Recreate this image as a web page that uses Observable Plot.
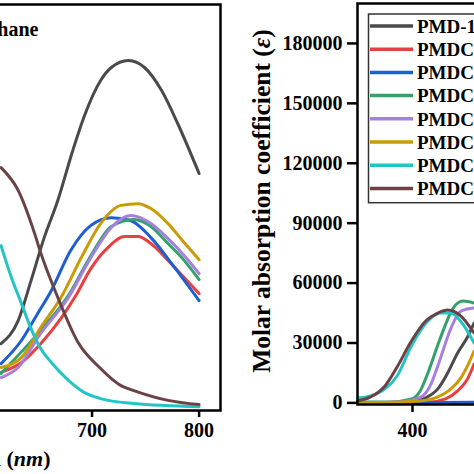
<!DOCTYPE html>
<html>
<head>
<meta charset="utf-8">
<script src="https://cdn.jsdelivr.net/npm/d3@7"></script>
<script src="https://cdn.jsdelivr.net/npm/@observablehq/plot@0.6"></script>
<style>
html, body { margin: 0; padding: 0; background: #fff; overflow: hidden; }
#wrap { position: relative; width: 474px; height: 474px; overflow: hidden; background: #fff; }
#wrap svg { position: absolute; top: 0; }
</style>
</head>
<body>
<div id="wrap"></div>
<script>
// Series names (legend order)
const seriesNames = ["PMD-1", "PMDC-1", "PMDC-2", "PMDC-3", "PMDC-4", "PMDC-5", "PMDC-6", "PMDC-7"];

// Left panel: normalized spectra in dichloromethane [wavelength nm, intensity]
const leftPMD1  = [[615,0.191],[631,0.257],[643,0.371],[655,0.491],[668,0.600],[682,0.743],[693,0.843],[708,0.943],[718,0.980],[734,1.000],[749,0.980],[765,0.914],[780,0.820],[800,0.677]];
const leftPMDC1 = [[615,0.109],[634,0.137],[652,0.191],[671,0.263],[685,0.329],[699,0.406],[715,0.466],[730,0.497],[743,0.497],[755,0.477],[771,0.429],[786,0.380],[800,0.334]];
const leftPMDC2 = [[615,0.134],[634,0.200],[648,0.271],[662,0.343],[680,0.457],[699,0.529],[718,0.551],[736,0.543],[755,0.494],[777,0.409],[800,0.314]];
const leftPMDC3 = [[615,0.106],[652,0.229],[678,0.329],[699,0.443],[718,0.526],[739,0.546],[755,0.526],[771,0.477],[786,0.429],[800,0.374]];
const leftPMDC4 = [[615,0.094],[631,0.123],[652,0.220],[678,0.323],[699,0.437],[718,0.523],[736,0.557],[755,0.534],[771,0.491],[786,0.443],[800,0.391]];
const leftPMDC5 = [[615,0.123],[634,0.151],[652,0.237],[671,0.323],[690,0.437],[708,0.534],[727,0.586],[743,0.591],[755,0.577],[771,0.534],[786,0.480],[800,0.431]];
const leftPMDC6 = [[615,0.471],[624,0.386],[634,0.306],[643,0.234],[652,0.177],[662,0.137],[678,0.086],[693,0.051],[708,0.034],[739,0.020],[800,0.011]];
const leftPMDC7 = [[615,0.694],[631,0.629],[646,0.509],[652,0.451],[668,0.323],[687,0.194],[708,0.120],[727,0.071],[739,0.057],[771,0.029],[800,0.017]];

// Right panel: molar absorption coefficient [wavelength nm, epsilon]
const rightPMD1  = [[350,0],[398,500],[412,2500],[423,7000],[432,15000],[441,25000],[450,33000],[456,40000]];
const rightPMDC1 = [[350,0],[416,500],[430,2000],[441,6000],[450,12000],[456,19500]];
const rightPMDC2 = [[350,0],[456,300]];
const rightPMDC3 = [[350,500],[380,500],[399,2000],[407,6000],[414,15000],[425,32000],[437,47500],[446,51000],[456,50000]];
const rightPMDC4 = [[350,0],[389,500],[408,3000],[416,8500],[423,18500],[435,37500],[444,46000],[456,47500]];
const rightPMDC5 = [[350,0],[407,1000],[423,3000],[435,7000],[444,12500],[450,18500],[456,26000]];
const rightPMDC6 = [[350,2500],[362,3500],[375,7000],[386,13500],[399,28500],[414,41000],[425,45000],[435,45000],[445,40000],[456,30000]];
const rightPMDC7 = [[350,1000],[362,3000],[375,8500],[386,18000],[399,31000],[412,41000],[423,45000],[432,46500],[444,43500],[456,35000]];

// Tick values
const leftXTicks = [600, 700, 800];
const rightXTicks = [400, 500, 600, 700];
const rightYTicks = [0, 30000, 60000, 90000, 120000, 150000, 180000];

// Styles
const colors = ["#4a4a4a", "#e8403f", "#1d5fd3", "#34a16b", "#a77fe0", "#c99b06", "#22c4c6", "#6b4244"];
const FONT = "'Liberation Serif', 'Times New Roman', serif";

const leftSeries = [leftPMD1, leftPMDC1, leftPMDC2, leftPMDC3, leftPMDC4, leftPMDC5, leftPMDC6, leftPMDC7];
const rightSeries = [rightPMD1, rightPMDC1, rightPMDC2, rightPMDC3, rightPMDC4, rightPMDC5, rightPMDC6, rightPMDC7];
const rows = (arr, name) => arr.map(([wl, v]) => ({series: name, wl, v}));

const baseStyle = {
  fontFamily: FONT, fontSize: "20px", fontWeight: "bold", color: "black",
  background: "transparent", maxWidth: "none", overflow: "visible"
};

const wrap = document.getElementById("wrap");

// ---------- Left panel ----------
const left = Plot.plot({
  width: 541, height: 474,
  marginLeft: 60, marginRight: 10, marginTop: 4, marginBottom: 64,
  x: {domain: [380, 820]},
  y: {domain: [0, 1.16], axis: null},
  style: baseStyle,
  marks: [
    ...leftSeries.map((s, i) => Plot.line(rows(s, seriesNames[i]), {
      x: "wl", y: "v", stroke: colors[i], strokeWidth: 3, curve: "monotone-x"
    })),
    Plot.frame({stroke: "black", strokeWidth: 2.5}),
    Plot.axisX({ticks: leftXTicks, tickSize: 7, tickPadding: 5, strokeWidth: 2.5, label: null, tickFormat: d => String(d)})
  ]
});
left.style.left = "-311.5px";
wrap.appendChild(left);

const sL = d3.select(left);
sL.append("text")
  .attr("x", 349.5).attr("y", 36)
  .attr("text-anchor", "end")
  .style("font-size", "20px")
  .attr("fill", "black")
  .text("Dichloromethane");
const xl = sL.append("text")
  .attr("x", 361.5).attr("y", 466)
  .attr("text-anchor", "end")
  .style("font-size", "22px")
  .attr("fill", "black");
xl.append("tspan").text("Wavelength (");
xl.append("tspan").style("font-style", "italic").text("nm");
xl.append("tspan").text(")");

// ---------- Right panel ----------
const right = Plot.plot({
  width: 625, height: 474,
  marginLeft: 120, marginRight: 10, marginTop: 3, marginBottom: 70,
  x: {domain: [350, 800]},
  y: {domain: [-800, 200000]},
  style: baseStyle,
  marks: [
    ...rightSeries.map((s, i) => Plot.line(rows(s, seriesNames[i]), {
      x: "wl", y: "v", stroke: colors[i], strokeWidth: 3, curve: "monotone-x"
    })),
    Plot.frame({stroke: "black", strokeWidth: 2.5}),
    Plot.axisX({ticks: rightXTicks, tickSize: 8, tickPadding: 10, strokeWidth: 2.5, label: null, tickFormat: d => String(d)}),
    Plot.axisY({ticks: rightYTicks, tickSize: 10, tickPadding: 5, strokeWidth: 2.5, label: null, tickFormat: d => String(d)})
  ]
});
right.style.left = "237px";
wrap.appendChild(right);

const sR = d3.select(right);
const yl = sR.append("text")
  .attr("transform", "translate(33,201) rotate(-90)")
  .attr("text-anchor", "middle")
  .style("font-size", "25.5px")
  .attr("fill", "black");
yl.append("tspan").text("Molar absorption coefficient (");
yl.append("tspan").style("font-style", "italic").text("ε");
yl.append("tspan").text(")");

const xr = sR.append("text")
  .attr("x", 367.5).attr("y", 466)
  .attr("text-anchor", "middle")
  .style("font-size", "22px")
  .attr("fill", "black");
xr.append("tspan").text("Wavelength (");
xr.append("tspan").style("font-style", "italic").text("nm");
xr.append("tspan").text(")");

// Legend
const lg = sR.append("g");
lg.append("rect")
  .attr("x", 131.5).attr("y", 14).attr("width", 150).attr("height", 188.7)
  .attr("fill", "white").attr("stroke", "#333").attr("stroke-width", 1.5);
seriesNames.forEach((name, i) => {
  const y = 26 + i * 23.2;
  lg.append("line")
    .attr("x1", 133).attr("x2", 176).attr("y1", y).attr("y2", y)
    .attr("stroke", colors[i]).attr("stroke-width", 3.5).attr("stroke-linecap", "butt");
  lg.append("text")
    .attr("x", 180).attr("y", y).attr("dy", "0.36em")
    .attr("text-anchor", "start")
    .attr("fill", "black")
    .style("font-size", "19px")
    .text(name);
});
</script>
</body>
</html>
